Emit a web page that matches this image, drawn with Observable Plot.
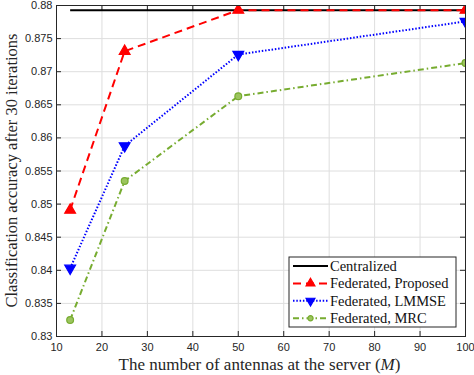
<!DOCTYPE html>
<html><head><meta charset="utf-8">
<script src="https://cdn.jsdelivr.net/npm/d3@7"></script>
<script src="https://cdn.jsdelivr.net/npm/@observablehq/plot@0.6"></script>
<style>body{margin:0;background:#fff}</style>
</head><body><div id="chart"></div>
<script>
const antennas = [13, 25, 50, 100];
const centralized = [0.8793, 0.8793, 0.8793, 0.8793];
const proposed = [0.8491, 0.8731, 0.8793, 0.8793];
const lmmse = [0.8403, 0.8588, 0.8726, 0.8776];
const mrc = [0.8325, 0.8535, 0.8663, 0.8713];
const xTicks = [10, 20, 30, 40, 50, 60, 70, 80, 90, 100];
const yTicks = [0.83, 0.835, 0.84, 0.845, 0.85, 0.855, 0.86, 0.865, 0.87, 0.875, 0.88];
const yTickLabels = ["0.83","0.835","0.84","0.845","0.85","0.855","0.86","0.865","0.87","0.875","0.88"];
const seriesNames = ["Centralized", "Federated, Proposed", "Federated, LMMSE", "Federated, MRC"];
const xLabel = "The number of antennas at the server (";
const xLabelVar = "M";
const yLabel = "Classification accuracy after 30 iterations";

const W = 474, H = 375;
const mL = 56, mR = 9, mT = 5, mB = 39;
const innerW = W - mL - mR, innerH = H - mT - mB;

const styles = [
  {stroke: "#000000", dash: null, symbol: null},
  {stroke: "#ff0000", dash: "8,5", symbol: "triangle", rotate: 0, fill: "#ff0000", r: 4, lr: 3.3},
  {stroke: "#0000ff", dash: "1.5,1.8", symbol: "triangle", rotate: 180, fill: "#0000ff", r: 4, lr: 3.3},
  {stroke: "#77ac30", dash: "6,3,1.5,3", symbol: "circle", rotate: 0, fill: "#9cc45e", r: 3.4, lr: 2.6}
];
const seriesValues = [centralized, proposed, lmmse, mrc];
const data = seriesValues.flatMap((vals, i) => antennas.map((m, j) => ({series: seriesNames[i], m, acc: vals[j], i})));

const marks = [
  Plot.gridX(xTicks, {stroke: "#dedede", strokeOpacity: 1}),
  Plot.gridY(yTicks, {stroke: "#dedede", strokeOpacity: 1}),
  Plot.tickX(xTicks, {stroke: "#262626", insetTop: innerH - 5}),
  Plot.tickX(xTicks, {stroke: "#262626", insetBottom: innerH - 5}),
  Plot.tickY(yTicks, {stroke: "#262626", insetRight: innerW - 5}),
  Plot.tickY(yTicks, {stroke: "#262626", insetLeft: innerW - 5}),
  Plot.axisX(xTicks, {tickSize: 0, tickPadding: 7, fontSize: 11, fill: "#262626", label: null}),
  Plot.axisY(yTicks, {tickSize: 0, tickPadding: 4, fontSize: 11, fill: "#262626", label: null, tickFormat: (d, k) => yTickLabels[k]}),
];
seriesValues.forEach((vals, i) => {
  const s = styles[i];
  const d = data.filter(e => e.i === i);
  marks.push(Plot.line(d, {x: "m", y: "acc", stroke: s.stroke, strokeWidth: 2, strokeDasharray: s.dash, strokeLinecap: "butt", strokeLinejoin: "miter", clip: true}));
  if (s.symbol) marks.push(Plot.dot(d, {x: "m", y: "acc", symbol: s.symbol, rotate: s.rotate, r: s.r, fill: s.fill, stroke: s.stroke, strokeWidth: 1.2, clip: true}));
});
marks.push(Plot.frame({stroke: "#262626"}));

const chart = Plot.plot({
  width: W, height: H,
  marginLeft: mL, marginRight: mR, marginTop: mT, marginBottom: mB,
  style: {fontFamily: "'Liberation Sans', Arial, sans-serif", background: "#fff", overflow: "visible"},
  x: {domain: [10, 100]},
  y: {domain: [0.83, 0.88]},
  marks
});
document.getElementById("chart").appendChild(chart);

const svg = d3.select(chart);
const serif = "'Liberation Serif', 'DejaVu Serif', serif";
// axis labels
const xl = svg.append("text").attr("x", mL + innerW / 2 - 1).attr("y", 370)
  .attr("text-anchor", "middle").attr("font-family", serif).attr("font-size", 17).attr("fill", "#262626");
xl.append("tspan").text(xLabel);
xl.append("tspan").attr("font-style", "italic").text(xLabelVar);
xl.append("tspan").text(")");
svg.append("text").attr("transform", `translate(17,${mT + innerH / 2}) rotate(-90)`)
  .attr("text-anchor", "middle").attr("font-family", serif).attr("font-size", 16.5).attr("fill", "#262626")
  .text(yLabel);

// legend
const lx = 289, ly = 257, lw = 167, lh = 70;
const lg = svg.append("g").attr("text-anchor", "start");
lg.append("rect").attr("x", lx).attr("y", ly).attr("width", lw).attr("height", lh)
  .attr("fill", "#fff").attr("stroke", "#262626").attr("stroke-width", 1);
seriesNames.forEach((name, i) => {
  const s = styles[i];
  const yy = ly + 9 + i * 17.4;
  lg.append("line").attr("x1", lx + 4).attr("x2", lx + 39).attr("y1", yy).attr("y2", yy)
    .attr("stroke", s.stroke).attr("stroke-width", 2).attr("stroke-dasharray", s.dash);
  if (s.symbol) {
    const sym = s.symbol === "circle" ? d3.symbolCircle : d3.symbolTriangle;
    lg.append("path").attr("d", d3.symbol(sym, Math.PI * s.lr * s.lr)())
      .attr("transform", `translate(${lx + 21.5},${yy}) rotate(${s.rotate})`)
      .attr("fill", s.fill).attr("stroke", s.stroke).attr("stroke-width", 1.2);
  }
  lg.append("text").attr("x", lx + 41).attr("y", yy).attr("dy", "0.35em").attr("text-anchor", "start")
    .attr("font-family", serif).attr("font-size", 14.5).attr("fill", "#111").text(name);
});
</script></body></html>
